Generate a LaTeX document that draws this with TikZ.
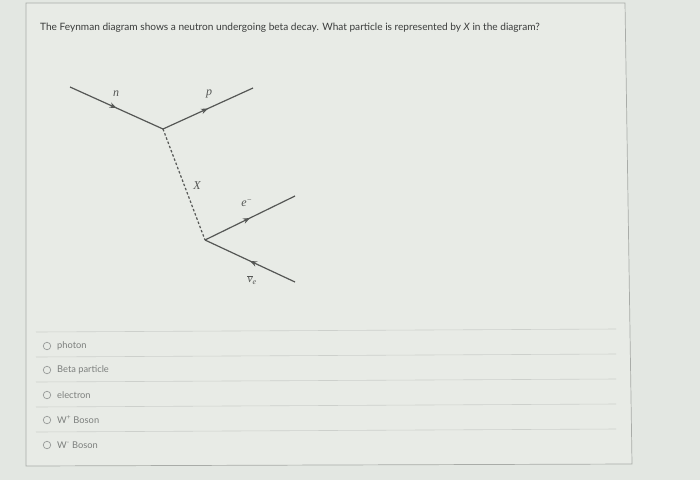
\documentclass[tikz,border=0pt]{standalone}
\usepackage{fontspec}
\setmainfont{Lato}
\newfontfamily\lblfont{Liberation Serif}
\usetikzlibrary{decorations.markings,arrows.meta}
\definecolor{bgc}{HTML}{E3E7E2}
\definecolor{panelc}{HTML}{E8EBE6}
\definecolor{borderc}{HTML}{A9ACA8}
\definecolor{sepc}{HTML}{CDD0CC}
\definecolor{linec}{HTML}{555755}
\definecolor{qtext}{HTML}{3A3C3B}
\definecolor{otext}{HTML}{7C7F7D}
\tikzset{
  fermion/.style={draw=linec, line width=1.2pt, postaction={decorate},
    decoration={markings, mark=at position 0.5 with {\arrow{Stealth[length=7pt,width=5.5pt]}}}},
  boson/.style={draw=linec, line width=1.2pt, dash pattern=on 2.5pt off 2pt},
  plabel/.style={text=linec, font=\lblfont\itshape\fontsize{12}{14}\selectfont, inner sep=0pt},
  opt/.style={text=otext, font=\fontsize{9.3}{11}\selectfont, anchor=west, inner sep=0pt},
  radio/.style={circle, draw=otext!80, line width=0.7pt, minimum size=7.5pt, inner sep=0pt},
  sep/.style={draw=sepc, line width=0.6pt}
}
\begin{document}
\begin{tikzpicture}[x=1pt,y=-1pt]
\useasboundingbox (0,0) rectangle (700,480);
\fill[bgc] (0,0) rectangle (700,480);
\filldraw[fill=panelc, draw=borderc, line width=0.7pt] (26,3) -- (625,3) -- (632,464) -- (26,466) -- cycle;
\node[text=qtext, font=\fontsize{10.1}{12}\selectfont, anchor=west, inner sep=0pt] (q) at (40,28)
  {The Feynman diagram shows a neutron undergoing beta decay. What particle is represented by \textit{X} in the diagram?};
% Feynman diagram
\coordinate (nin) at (70,87);
\coordinate (v1) at (163,129);
\coordinate (pout) at (253,88);
\coordinate (v2) at (205,240);
\coordinate (eout) at (295,196);
\coordinate (nuin) at (295,282);
\draw[fermion] (nin) -- (v1);
\draw[fermion] (v1) -- (pout);
\draw[boson] (v1) -- (v2);
\draw[fermion] (v2) -- (eout);
\draw[fermion] (nuin) -- (v2);
\node[plabel] (ln) at (116,94) {n};
\node[plabel] (lp) at (209,94) {p};
\node[plabel] (lx) at (197,186) {X};
\node[plabel] (le) at (247,203) {e\textsuperscript{−}};
\node[plabel] (lnu) at (252,280) {$\overline{\hbox{\lblfont\itshape\fontsize{12}{14}\selectfont ν}}$\textsubscript{e}};
% separators
\draw[sep] (36,332) -- (616,329);
\draw[sep] (36,357) -- (616,354);
\draw[sep] (36,382) -- (616,379);
\draw[sep] (36,407) -- (616,404);
\draw[sep] (36,432) -- (616,429);
% options
\node[radio] (r1) at (47,346) {};
\node[radio] (r2) at (47,370) {};
\node[radio] (r3) at (47,395) {};
\node[radio] (r4) at (47,420) {};
\node[radio] (r5) at (47,445) {};
\node[opt] (o1) at (57,346) {photon};
\node[opt] (o2) at (57,370) {Beta particle};
\node[opt] (o3) at (57,395) {electron};
\node[opt] (o4) at (57,420) {W\textsuperscript{+} Boson};
\node[opt] (o5) at (57,445) {W\textsuperscript{-} Boson};
\end{tikzpicture}
\end{document}
